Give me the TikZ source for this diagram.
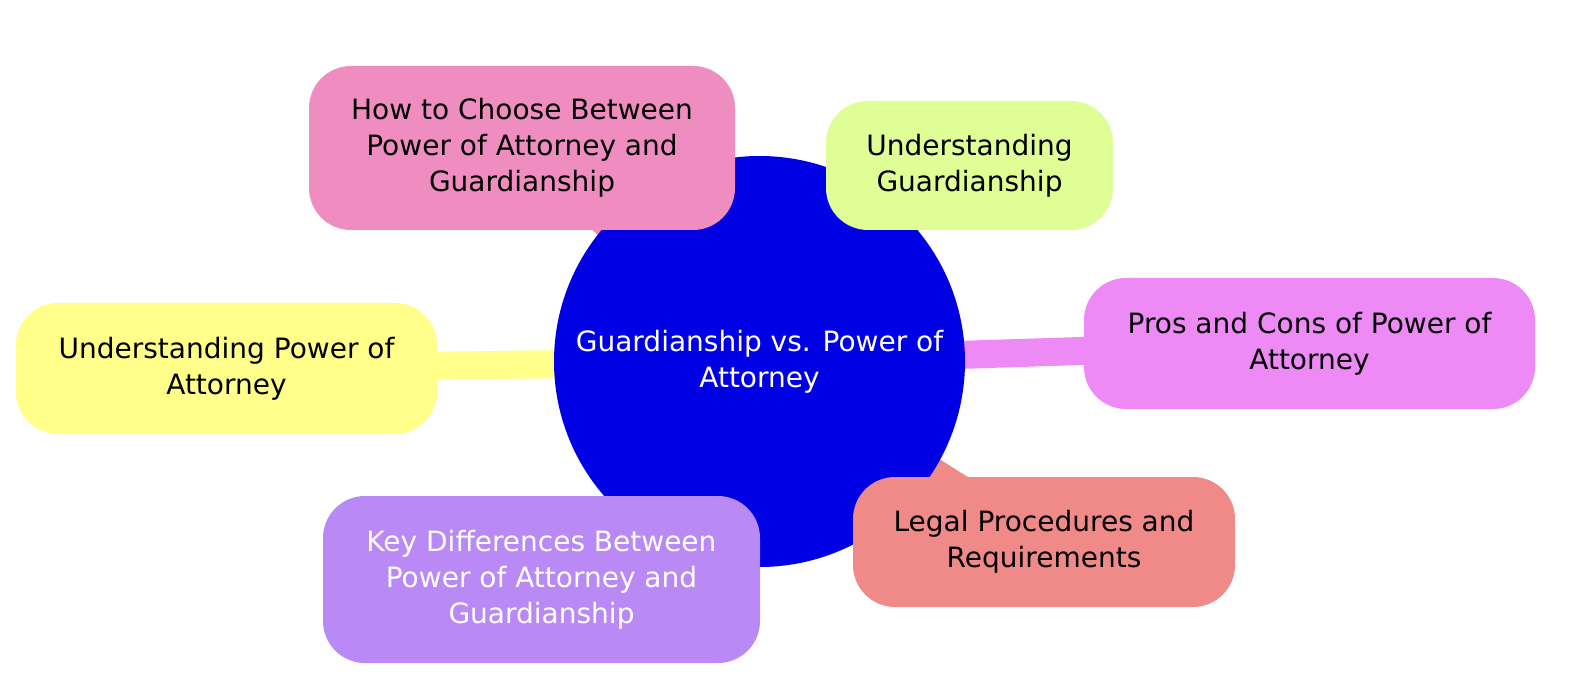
\documentclass[tikz,border=0pt]{standalone}
\usepackage{fontspec}
\setmainfont{DejaVu Sans}
\definecolor{rootblue}{RGB}{0,0,228}
\definecolor{cyellow}{RGB}{255,255,138}
\definecolor{cgreen}{RGB}{224,254,150}
\definecolor{cpink}{RGB}{239,141,193}
\definecolor{cviolet}{RGB}{238,138,246}
\definecolor{csalmon}{RGB}{239,138,136}
\definecolor{cpurple}{RGB}{185,138,246}
\tikzset{
  box/.style={rounded corners=42pt, inner sep=0pt, align=center,
    font=\fontsize{28}{36}\selectfont, text=black},
  edge/.style={line width=28pt},
}
\begin{document}
\begin{tikzpicture}[x=1pt,y=-1pt]
\useasboundingbox[fill=white] (0,0) rectangle (1582,700);
\coordinate (c) at (759.5,361.5);
% edges
\coordinate (nchoose) at (522,148);
\coordinate (nguard) at (969.5,165.5);
\coordinate (nupoa) at (226.5,368.5);
\coordinate (npros) at (1309.5,343.5);
\coordinate (nlegal) at (1044,542);
\coordinate (nkey) at (541.5,579.5);
\draw[edge,cpink] (c) -- (nchoose);
\draw[edge,cgreen] (c) -- (nguard);
\draw[edge,cyellow] (c) -- (nupoa);
\draw[edge,cviolet] (c) -- (npros);
\draw[edge,csalmon] (c) -- (nlegal);
\draw[edge,cpurple] (c) -- (nkey);
% root
\node[circle, fill=rootblue, minimum size=411pt, inner sep=0pt, align=center,
  text=white, font=\fontsize{28}{36}\selectfont] (root) at (c)
  {Guardianship vs. Power of\\Attorney};
% children
\node[box, fill=cpink, minimum width=426pt, minimum height=164pt] (choose) at (nchoose)
  {How to Choose Between\\Power of Attorney and\\Guardianship};
\node[box, fill=cgreen, minimum width=287pt, minimum height=129pt] (guard) at (nguard)
  {Understanding\\Guardianship};
\node[box, fill=cyellow, minimum width=421pt, minimum height=131pt] (upoa) at (nupoa)
  {Understanding Power of\\Attorney};
\node[box, fill=cviolet, minimum width=451pt, minimum height=131pt] (pros) at (npros)
  {Pros and Cons of Power of\\Attorney};
\node[box, fill=csalmon, minimum width=382pt, minimum height=130pt] (legal) at (nlegal)
  {Legal Procedures and\\Requirements};
\node[box, fill=cpurple, minimum width=437pt, minimum height=167pt, text=white] (key) at (nkey)
  {Key Differences Between\\Power of Attorney and\\Guardianship};
\end{tikzpicture}
\end{document}
